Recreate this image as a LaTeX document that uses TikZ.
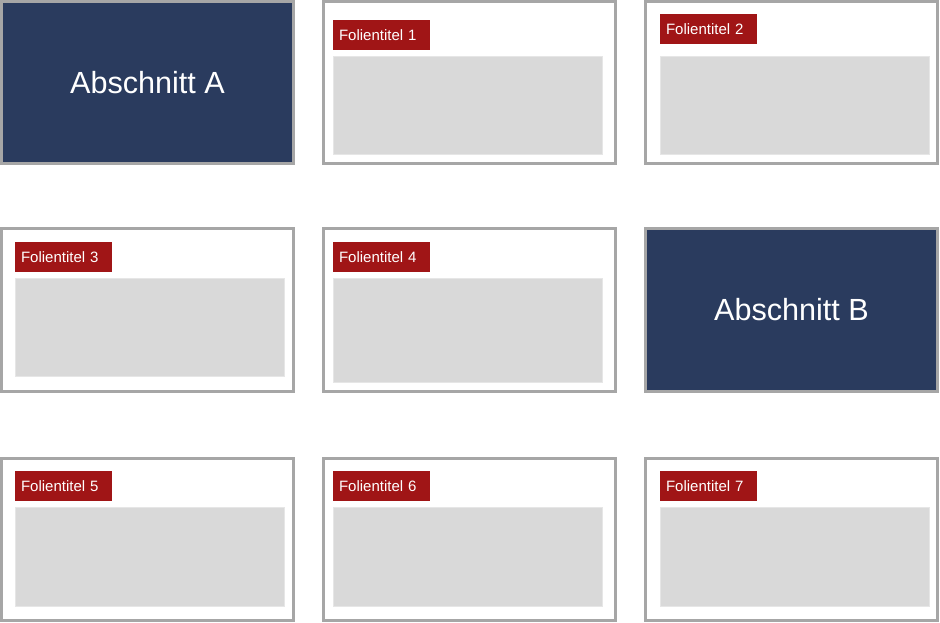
\documentclass[tikz,border=0pt]{standalone}
\usepackage{fontspec}
\setmainfont{Liberation Sans}
\definecolor{navy}{RGB}{42,59,94}
\definecolor{titlered}{RGB}{160,21,22}
\definecolor{contentgray}{RGB}{217,217,217}
\definecolor{contentedge}{RGB}{230,230,230}
\definecolor{bordergray}{RGB}{166,166,166}
\begin{document}
\begin{tikzpicture}[x=1pt,y=-1pt,
  tile/.style={draw=bordergray, line width=3pt, fill=white, anchor=north west, inner sep=0pt, outer sep=0pt, minimum width=292pt, minimum height=162pt},
  section/.style={tile, fill=navy, text=white, font=\fontsize{30.6}{36}\selectfont},
  titlebox/.style={fill=titlered, text=white, anchor=north west, outer sep=0pt, minimum height=30pt, text width=85pt, align=left, inner xsep=6pt, inner ysep=0pt, font=\fontsize{15}{18}\selectfont, text height=11pt, text depth=0pt},
  content/.style={fill=contentgray, draw=contentedge, line width=0.6pt, anchor=north west, inner sep=0pt, outer sep=0pt, minimum width=269pt}]
\useasboundingbox (0,0) rectangle (940,623);
\fill[white] (0,0) rectangle (940,623);
% row 1
\node[section] (secA) at (1.5,1.5) {Abschnitt A};
\node[tile] (t1) at (323.5,1.5) {};
\node[tile] (t2) at (645.5,1.5) {};
% row 2
\node[tile, minimum height=163pt] (t3) at (1.5,228.5) {};
\node[tile, minimum height=163pt] (t4) at (323.5,228.5) {};
\node[section, minimum height=163pt] (secB) at (645.5,228.5) {Abschnitt B};
% row 3
\node[tile] (t5) at (1.5,458.5) {};
\node[tile] (t6) at (323.5,458.5) {};
\node[tile] (t7) at (645.5,458.5) {};
% contents
\node[content, minimum height=98pt] (c1) at (333,56) {};
\node[titlebox] (l1) at (333,20) {Folientitel 1};
\node[content, minimum height=98pt] (c2) at (660,56) {};
\node[titlebox] (l2) at (660,14) {Folientitel 2};
\node[content, minimum height=98pt] (c3) at (15,278) {};
\node[titlebox] (l3) at (15,242) {Folientitel 3};
\node[content, minimum height=104pt] (c4) at (333,278) {};
\node[titlebox] (l4) at (333,242) {Folientitel 4};
\node[content, minimum height=99pt] (c5) at (15,507) {};
\node[titlebox] (l5) at (15,471) {Folientitel 5};
\node[content, minimum height=99pt] (c6) at (333,507) {};
\node[titlebox] (l6) at (333,471) {Folientitel 6};
\node[content, minimum height=99pt] (c7) at (660,507) {};
\node[titlebox] (l7) at (660,471) {Folientitel 7};
\end{tikzpicture}
\end{document}
